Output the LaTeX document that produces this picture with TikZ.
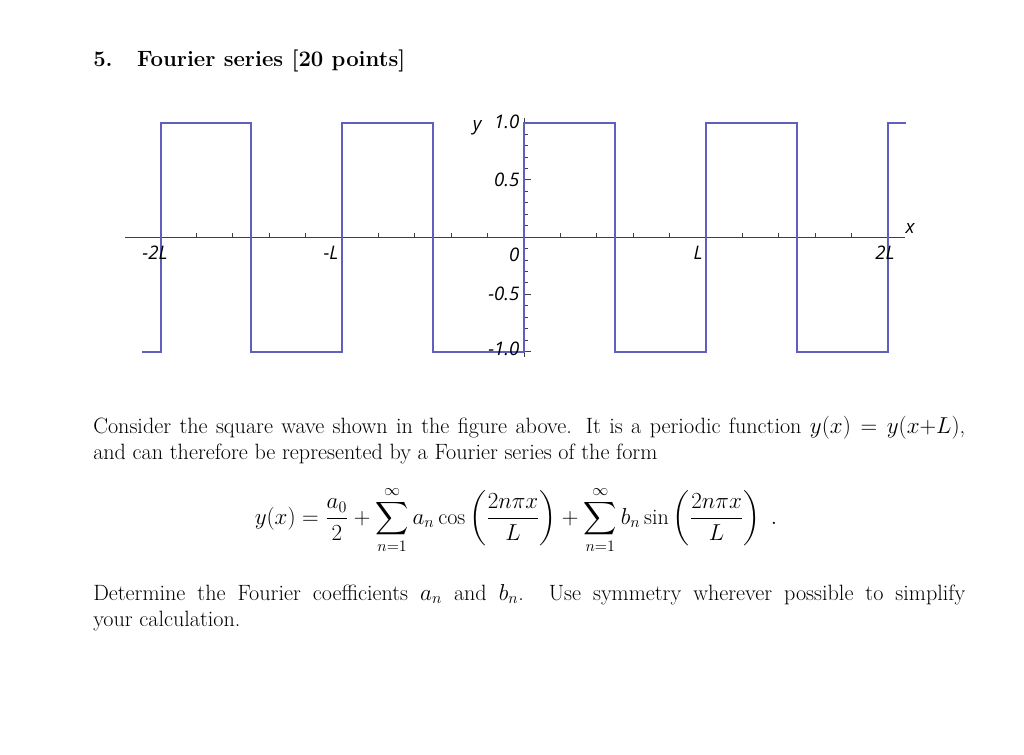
\documentclass[tikz,border=0pt]{standalone}
\usepackage{amsmath}
\usepackage{fontspec}
\newfontfamily\plotfont{Open Sans}
\begin{document}
\begin{tikzpicture}[x=0.75pt,y=-0.75pt,
  wave/.style={draw={rgb,255:red,95;green,95;blue,190},line width=1pt},
  ax/.style={draw=black!75,line width=0.5pt},
  tl/.style={font=\plotfont\itshape\fontsize{14}{16}\selectfont,inner sep=1pt},
  body/.style={font=\fontsize{16.6}{19.5}\selectfont,inner sep=0pt}]
\useasboundingbox (0,0) rectangle (1024,754);
% axes
\draw[ax] (125,237) -- (905,237);
\draw[ax] (524,118) -- (524,357);
\foreach \i in {-10,...,10} {\draw[ax] (524+\i*36.4,237) -- (524+\i*36.4,233);}
\foreach \i in {-10,...,10} {\draw[ax] (524,237+\i*11.45) -- (528,237+\i*11.45);}
\foreach \i in {-2,-1,1,2} {\draw[ax] (524,237+\i*57.25) -- (531,237+\i*57.25);}
% wave
\draw[wave] (142,352) -- (161,352) -- (161,123) -- (251,123) -- (251,352) -- (342,352) -- (342,123) -- (433,123) -- (433,352) -- (524,352) -- (524,123) -- (615,123) -- (615,352) -- (706,352) -- (706,123) -- (797,123) -- (797,352) -- (888,352) -- (888,123) -- (906,123);
% labels
\node[tl,anchor=east] (y1) at (521,122) {1.0};
\node[tl,anchor=east] (yl) at (483,128) {y};
\node[tl,anchor=east] (y05) at (521,180) {0.5};
\node[tl,anchor=east] (y0) at (521,255) {0};
\node[tl,anchor=east] (ym05) at (521,294) {-0.5};
\node[tl,anchor=east] (ym1) at (521,349) {-1.0};
\node[tl] (xm2) at (155,253) {-2L};
\node[tl] (xm1) at (331,253) {-L};
\node[tl] (x1) at (698,253) {L};
\node[tl] (x2) at (885,253) {2L};
\node[tl] (xl) at (910,228) {x};
% text
\node[body,anchor=base west] (h) at (93,66) {\textbf{5.}\hspace{1.1em}\textbf{Fourier series [20 points]}};
\node[body,anchor=north west,text width=654pt,align=justify] (p1) at (93,416) {Consider the square wave shown in the figure above. It is a periodic function $y(x)=y(x{+}L)$,\linebreak and can therefore be represented by a Fourier series of the form};
\node[body] (eq) at (516,520) {$\displaystyle y(x)=\frac{a_0}{2}+\sum_{n=1}^{\infty}a_n\cos\left(\frac{2n\pi x}{L}\right)+\sum_{n=1}^{\infty}b_n\sin\left(\frac{2n\pi x}{L}\right)\ .$};
\node[body,anchor=north west,text width=654pt,align=justify] (p2) at (93,584) {Determine the Fourier coefficients $a_n$ and $b_n$. Use symmetry wherever possible to simplify\linebreak your calculation.};
\end{tikzpicture}
\end{document}
